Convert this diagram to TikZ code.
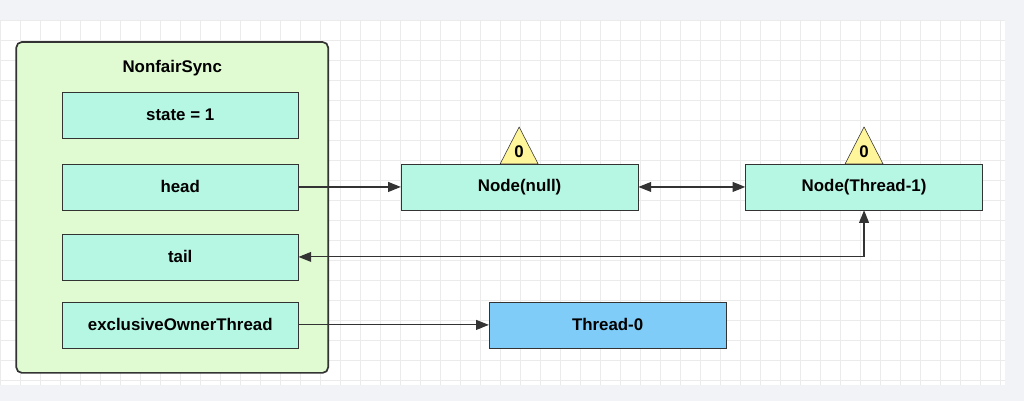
\documentclass[tikz,border=0pt]{standalone}
\usepackage{fontspec}
\setmainfont{Liberation Sans}
\usetikzlibrary{arrows.meta}
\definecolor{fieldc}{HTML}{B6F7E4}
\definecolor{syncc}{HTML}{E0FBD2}
\definecolor{threadc}{HTML}{80CCF8}
\definecolor{warnc}{HTML}{FFF59A}
\definecolor{gridc}{HTML}{EBEBEB}
\definecolor{bandc}{HTML}{F2F3F6}
\definecolor{linec}{HTML}{333333}

\begin{document}
\begin{tikzpicture}[x=0.025cm,y=-0.025cm,
    font=\fontsize{12}{14}\selectfont\bfseries,
    field/.style={draw=linec,fill=fieldc,minimum width=5.9cm,minimum height=1.15cm,inner sep=0pt},
    refnode/.style={field,minimum width=5.925cm},
    flag/.style={draw=linec,fill=warnc,line join=round},
    link/.style={-{Triangle[length=9pt,width=7pt]},draw=linec,thick}]
    % background and grid
    \fill[bandc] (0,0) rectangle (1024,401);
    \fill[white] (0,20) rectangle (1005,385);
    \foreach \gx in {0,20,...,1000} \draw[gridc] (\gx,20) -- (\gx,385);
    \foreach \gy in {20,40,...,380} \draw[gridc] (0,\gy) -- (1005,\gy);
    \useasboundingbox (0,0) rectangle (1024,401);

    \draw[linec,very thick,fill=syncc,rounded corners=4pt] (16,42) rectangle (328,373);
    \node (title) at (172,68) {NonfairSync};

    \node[field] (state) at (180,115) {state = 1};
    \node[field] (head) at (180,187) {head};
    \node[field] (tail) at (180,257) {tail};
    \node[field] (owner) at (180,325) {exclusiveOwnerThread};

    \node[refnode] (nnull) at (519.5,187) {Node(null)};
    \node[refnode] (nthread) at (864,187) {Node(Thread-1)};
    \node[refnode,fill=threadc] (thread0) at (607.5,325) {Thread-0};

    % waitStatus flags
    \draw[flag] (500,164) -- (519,127) -- (538,164) -- cycle;
    \node (flag1) at (519,152) {0};
    \draw[flag] (845,164) -- (864,127) -- (883,164) -- cycle;
    \node (flag2) at (864,152) {0};

    \draw[link] (head) -- (nnull);
    \draw[link,{Triangle[length=9pt,width=7pt]}-{Triangle[length=9pt,width=7pt]}] (nnull) -- (nthread);
    \draw[link,{Triangle[length=9pt,width=7pt]}-{Triangle[length=9pt,width=7pt]}] (tail) -| (nthread);
    \draw[link] (owner) -- (thread0);
\end{tikzpicture}
\end{document}
